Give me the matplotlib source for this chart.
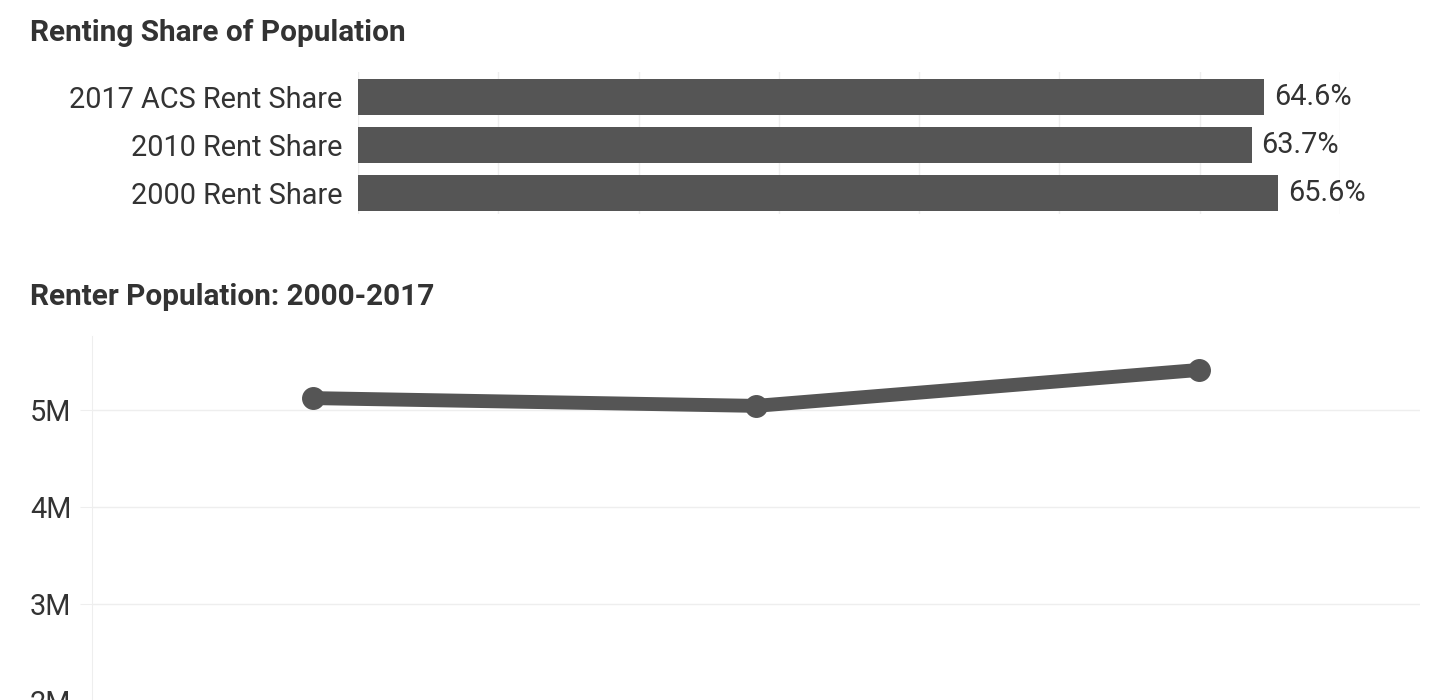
import matplotlib.pyplot as plt
from matplotlib.ticker import FuncFormatter

# bar panel data
share_labels = ["2017 ACS Rent Share", "2010 Rent Share", "2000 Rent Share"]
share_values = [64.6, 63.7, 65.6]

# line panel data
years = ["2000", "2010", "2017"]
renters = [5.12e6, 5.04e6, 5.41e6]

dark = "#555555"
text_c = "#333333"
grid_c = "#eeeeee"

plt.rcParams["font.family"] = ["Roboto", "DejaVu Sans"]

fig = plt.figure(figsize=(14.4, 7), dpi=100)

#--- Renting share bars ---#
ax1 = fig.add_axes([358 / 1440, 1 - 214 / 700, 982 / 1440, 142 / 700])
pos = range(len(share_labels))
ax1.barh(pos, share_values, height=0.75, color=dark)
for p, v in zip(pos, share_values):
    ax1.text(v + 0.7, p, f"{v:.1f}%", va="center", ha="left", fontsize=20.8, color=text_c)
ax1.set_xlim(0, 70)
ax1.set_ylim(2.44, -0.52)
ax1.set_xticks(range(0, 71, 10))
ax1.set_xticklabels([])
ax1.set_yticks(list(pos))
ax1.set_yticklabels(share_labels, fontsize=20.8, color=text_c)
ax1.tick_params(length=0, pad=11)
ax1.grid(axis="x", color=grid_c, linewidth=1)
ax1.set_axisbelow(True)
for s in ax1.spines.values():
    s.set_visible(False)

fig.text(30 / 1440, 1 - 33 / 700, "Renting Share of Population", fontsize=21.4,
         fontweight="bold", color=text_c, va="center", ha="left")

#--- Renter population line ---#
ax2 = fig.add_axes([92 / 1440, 1 - 895 / 700, 1328 / 1440, 559 / 700])
xs = [0.5, 1.5, 2.5]
ax2.plot(xs, renters, color=dark, linewidth=10, marker="o", markersize=15.5,
         solid_capstyle="round")
ax2.set_xlim(0, 3)
ax2.set_ylim(0, 5.76e6)
ax2.set_yticks([0, 1e6, 2e6, 3e6, 4e6, 5e6])
ax2.yaxis.set_major_formatter(FuncFormatter(lambda v, _: f"{v / 1e6:.0f}M"))
ax2.set_xticks(xs)
ax2.set_xticklabels(years)
ax2.tick_params(axis="x", labelsize=20.8, labelcolor=text_c, length=0)
ax2.tick_params(axis="y", labelsize=20.8, labelcolor=text_c, color=grid_c, length=9, pad=6)
ax2.grid(axis="y", color=grid_c, linewidth=1)
ax2.set_axisbelow(True)
for k in ["top", "right", "bottom"]:
    ax2.spines[k].set_visible(False)
ax2.spines["left"].set_color(grid_c)

fig.text(30 / 1440, 1 - 297 / 700, "Renter Population: 2000-2017", fontsize=21.4,
         fontweight="bold", color=text_c, va="center", ha="left")

fig.savefig("out.png", dpi=100)
